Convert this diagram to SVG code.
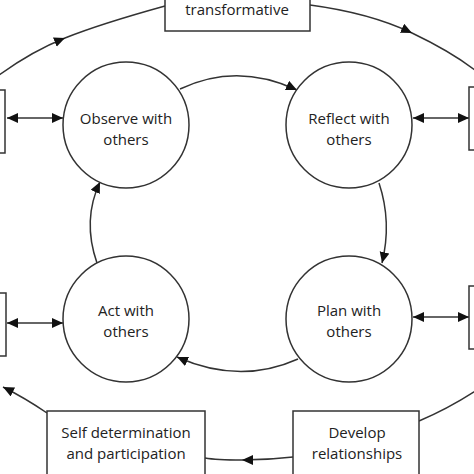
<svg xmlns="http://www.w3.org/2000/svg" width="474" height="474" viewBox="0 0 474 474">
<style>
.n{fill:#fff;stroke:#333;stroke-width:1.5}
.c{fill:none;stroke:#333;stroke-width:1.5}
.t{font-family:"Open Sans","Liberation Sans",sans-serif;font-size:15px;fill:#222;text-anchor:middle}
</style>
<defs>
<marker id="ah" markerUnits="userSpaceOnUse" markerWidth="14" markerHeight="12" refX="11" refY="5" orient="auto-start-reverse">
<path d="M0,0 L11,5 L0,10 z" fill="#111"/>
</marker>
</defs>
<rect width="474" height="474" fill="#fff"/>
<g id="connectors">
<path class="c" d="M -5,78 Q 30,52 65,38 T 165,6" marker-mid="url(#ah)"/>
<path class="c" d="M 310,5 Q 370,13 412,33 T 480,74" marker-mid="url(#ah)"/>
<path class="c" d="M 47,413 Q 25,398 3,387" marker-end="url(#ah)"/>
<path class="c" d="M 419,421 Q 450,408 480,388"/>
<path class="c" d="M 293,457 Q 268,460 242,460 T 205,458" marker-mid="url(#ah)"/>
<path class="c" d="M 180,89 Q 237,62 297,90" marker-end="url(#ah)"/>
<path class="c" d="M 379,183 Q 392,222 382,263" marker-end="url(#ah)"/>
<path class="c" d="M 298,359 Q 240,385 177,357" marker-end="url(#ah)"/>
<path class="c" d="M 97,263 Q 82,220 100,182" marker-end="url(#ah)"/>
<path class="c" d="M 7,118 L 63,118" marker-start="url(#ah)" marker-end="url(#ah)"/>
<path class="c" d="M 413,118 L 469,118" marker-start="url(#ah)" marker-end="url(#ah)"/>
<path class="c" d="M 7,323 L 63,323" marker-start="url(#ah)" marker-end="url(#ah)"/>
<path class="c" d="M 413,317 L 469,317" marker-start="url(#ah)" marker-end="url(#ah)"/>
</g>
<g id="observe"><circle class="n" cx="126" cy="125" r="63"/><text class="t" x="126" y="124">Observe with</text><text class="t" x="126" y="145">others</text></g>
<g id="reflect"><circle class="n" cx="349" cy="125" r="63"/><text class="t" x="349" y="124">Reflect with</text><text class="t" x="349" y="145">others</text></g>
<g id="act"><circle class="n" cx="126" cy="319" r="63"/><text class="t" x="126" y="316">Act with</text><text class="t" x="126" y="337">others</text></g>
<g id="plan"><circle class="n" cx="349" cy="319" r="63"/><text class="t" x="349" y="316">Plan with</text><text class="t" x="349" y="337">others</text></g>
<g id="transformative"><rect class="n" x="165" y="-10" width="145" height="41"/><text class="t" x="237" y="15">transformative</text></g>
<g id="self-determination"><rect class="n" x="47" y="411" width="158" height="70"/><text class="t" x="126" y="438">Self determination</text><text class="t" x="126" y="459">and participation</text></g>
<g id="develop"><rect class="n" x="293" y="411" width="126" height="70"/><text class="t" x="357" y="438">Develop</text><text class="t" x="357" y="459">relationships</text></g>
<g id="left-top"><rect class="n" x="-20" y="90" width="25" height="63"/></g>
<g id="right-top"><rect class="n" x="469" y="87" width="25" height="63"/></g>
<g id="left-bottom"><rect class="n" x="-20" y="293" width="26" height="63"/></g>
<g id="right-bottom"><rect class="n" x="469" y="286" width="25" height="63"/></g>
</svg>
